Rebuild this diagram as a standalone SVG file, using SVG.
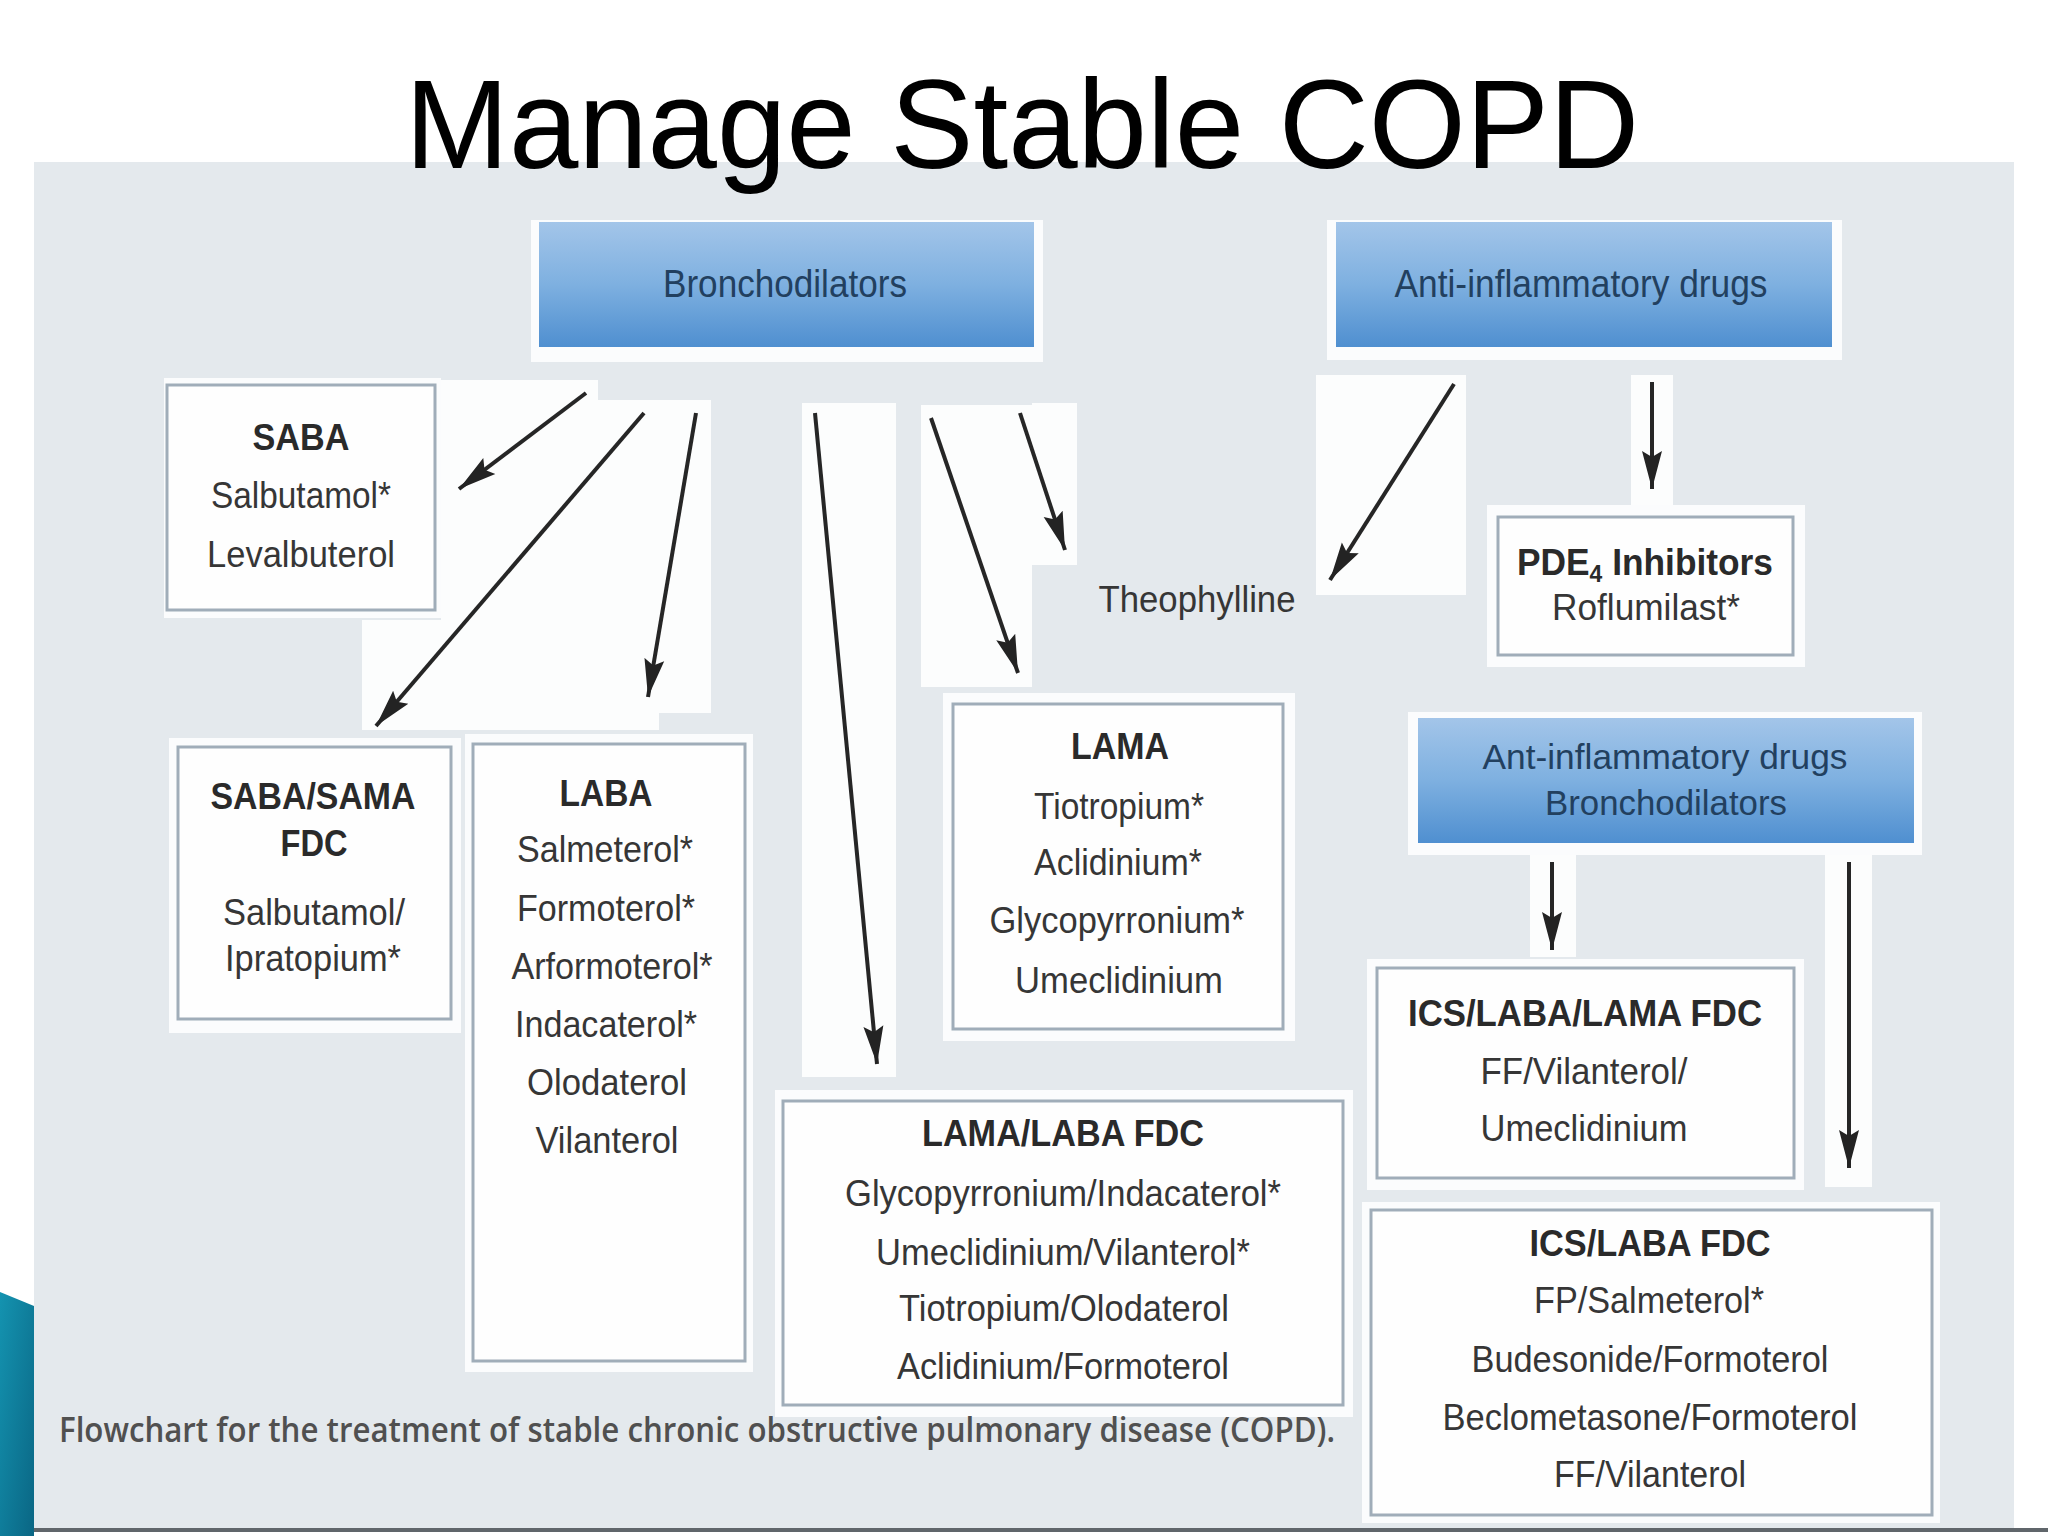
<svg xmlns="http://www.w3.org/2000/svg" width="2048" height="1536" viewBox="0 0 2048 1536">
<defs>
<linearGradient id="blue" x1="0" y1="0" x2="0" y2="1">
<stop offset="0" stop-color="#a3c5e9"/>
<stop offset="0.5" stop-color="#7eb0e0"/>
<stop offset="1" stop-color="#4f8fd0"/>
</linearGradient>
<linearGradient id="teal" x1="0" y1="0" x2="1" y2="1">
<stop offset="0" stop-color="#1493b0"/>
<stop offset="1" stop-color="#0a6684"/>
</linearGradient>
<marker id="ah" markerUnits="userSpaceOnUse" markerWidth="40" markerHeight="22" refX="38" refY="11" orient="auto">
<path d="M0,1 L38,11 L0,21 L6,11 z" fill="#232323"/>
</marker>
<style>
.paper{fill:#fcfdfd}
.halo{fill:#fbfcfd}
.box{fill:#fefefe;stroke:#a0adb9;stroke-width:3}
.bbox{fill:url(#blue)}
.t{font-family:"Liberation Sans",Arial,sans-serif;text-anchor:middle}
.h{font-weight:bold;font-size:37px;fill:#2a2a2a}
.r{font-size:36px;fill:#363636}
.b{font-size:38px;fill:#22405f}
.b2{font-size:35px;fill:#22405f}
.arr{stroke:#262626;stroke-width:4;fill:none;marker-end:url(#ah)}
</style>
</defs>
<rect x="0" y="0" width="2048" height="1536" fill="#ffffff"/>
<rect x="34" y="162" width="1980" height="1370" fill="#e4e9ed"/>
<line x1="34" y1="1530" x2="2048" y2="1530" stroke="#60666b" stroke-width="4"/>
<polygon points="0,1292 34,1306 34,1536 0,1536" fill="url(#teal)"/>
<text x="1022" y="168" font-family="Liberation Sans, Arial, sans-serif" font-size="126" text-anchor="middle" textLength="1234" lengthAdjust="spacingAndGlyphs" fill="#000">Manage Stable COPD</text>

<g id="paper">
<rect class="paper" x="441" y="380" width="157" height="247"/>
<rect class="paper" x="598" y="400" width="113" height="313"/>
<rect class="paper" x="362" y="620" width="297" height="110"/>
<rect class="paper" x="802" y="403" width="94" height="674"/>
<rect class="paper" x="921" y="405" width="111" height="282"/>
<rect class="paper" x="1032" y="403" width="45" height="162"/>
<rect class="paper" x="1316" y="375" width="150" height="220"/>
<rect class="paper" x="1631" y="375" width="42" height="130"/>
<rect class="paper" x="1530" y="855" width="46" height="102"/>
<rect class="paper" x="1825" y="855" width="47" height="332"/>
</g>

<g id="bronchodilators">
<rect class="halo" x="531" y="220" width="512" height="142"/>
<rect class="bbox" x="539" y="222" width="495" height="125"/>
<text class="t b" x="785" y="297" textLength="244" lengthAdjust="spacingAndGlyphs">Bronchodilators</text>
</g>
<g id="anti-inflammatory">
<rect class="halo" x="1327" y="220" width="515" height="140"/>
<rect class="bbox" x="1336" y="222" width="496" height="125"/>
<text class="t b" x="1581" y="297" textLength="373" lengthAdjust="spacingAndGlyphs">Anti-inflammatory drugs</text>
</g>
<g id="saba">
<rect class="halo" x="164" y="378" width="277" height="240"/>
<rect class="box" x="167" y="385" width="268" height="225"/>
<text class="t h" x="301" y="450" textLength="97" lengthAdjust="spacingAndGlyphs">SABA</text>
<text class="t r" x="301" y="508" textLength="180" lengthAdjust="spacingAndGlyphs">Salbutamol*</text>
<text class="t r" x="301" y="567" textLength="188" lengthAdjust="spacingAndGlyphs">Levalbuterol</text>
</g>
<g id="saba-sama">
<rect class="halo" x="169" y="738" width="292" height="295"/>
<rect class="box" x="178" y="747" width="273" height="272"/>
<text class="t h" x="313" y="809" textLength="205" lengthAdjust="spacingAndGlyphs">SABA/SAMA</text>
<text class="t h" x="314" y="856" textLength="67" lengthAdjust="spacingAndGlyphs">FDC</text>
<text class="t r" x="314" y="925" textLength="182" lengthAdjust="spacingAndGlyphs">Salbutamol/</text>
<text class="t r" x="313" y="971" textLength="176" lengthAdjust="spacingAndGlyphs">Ipratopium*</text>
</g>
<g id="laba">
<rect class="halo" x="465" y="734" width="288" height="638"/>
<rect class="box" x="473" y="744" width="272" height="617"/>
<text class="t h" x="606" y="806" textLength="93" lengthAdjust="spacingAndGlyphs">LABA</text>
<text class="t r" x="605" y="862" textLength="176" lengthAdjust="spacingAndGlyphs">Salmeterol*</text>
<text class="t r" x="606" y="921" textLength="178" lengthAdjust="spacingAndGlyphs">Formoterol*</text>
<text class="t r" x="612" y="979" textLength="201" lengthAdjust="spacingAndGlyphs">Arformoterol*</text>
<text class="t r" x="606" y="1037" textLength="182" lengthAdjust="spacingAndGlyphs">Indacaterol*</text>
<text class="t r" x="607" y="1095" textLength="160" lengthAdjust="spacingAndGlyphs">Olodaterol</text>
<text class="t r" x="607" y="1153" textLength="143" lengthAdjust="spacingAndGlyphs">Vilanterol</text>
</g>
<g id="lama">
<rect class="halo" x="943" y="693" width="352" height="348"/>
<rect class="box" x="953" y="704" width="330" height="325"/>
<text class="t h" x="1120" y="759" textLength="98" lengthAdjust="spacingAndGlyphs">LAMA</text>
<text class="t r" x="1119" y="819" textLength="170" lengthAdjust="spacingAndGlyphs">Tiotropium*</text>
<text class="t r" x="1118" y="875" textLength="168" lengthAdjust="spacingAndGlyphs">Aclidinium*</text>
<text class="t r" x="1117" y="933" textLength="255" lengthAdjust="spacingAndGlyphs">Glycopyrronium*</text>
<text class="t r" x="1119" y="993" textLength="208" lengthAdjust="spacingAndGlyphs">Umeclidinium</text>
</g>
<g id="lama-laba">
<rect class="halo" x="775" y="1090" width="578" height="327"/>
<rect class="box" x="783" y="1101" width="560" height="304"/>
<text class="t h" x="1063" y="1146" textLength="282" lengthAdjust="spacingAndGlyphs">LAMA/LABA FDC</text>
<text class="t r" x="1063" y="1206" textLength="436" lengthAdjust="spacingAndGlyphs">Glycopyrronium/Indacaterol*</text>
<text class="t r" x="1063" y="1265" textLength="374" lengthAdjust="spacingAndGlyphs">Umeclidinium/Vilanterol*</text>
<text class="t r" x="1064" y="1321" textLength="330" lengthAdjust="spacingAndGlyphs">Tiotropium/Olodaterol</text>
<text class="t r" x="1063" y="1379" textLength="332" lengthAdjust="spacingAndGlyphs">Aclidinium/Formoterol</text>
</g>
<g id="theophylline">
<text class="t r" x="1197" y="612" textLength="197" lengthAdjust="spacingAndGlyphs">Theophylline</text>
</g>
<g id="pde4">
<rect class="halo" x="1487" y="505" width="318" height="162"/>
<rect class="box" x="1498" y="517" width="295" height="138"/>
<text class="t h" x="1645" y="575" textLength="256" lengthAdjust="spacingAndGlyphs">PDE<tspan font-size="24" dy="7">4</tspan><tspan dy="-7"> Inhibitors</tspan></text>
<text class="t r" x="1646" y="620" textLength="188" lengthAdjust="spacingAndGlyphs">Roflumilast*</text>
</g>
<g id="anti-bronch">
<rect class="halo" x="1408" y="712" width="514" height="143"/>
<rect class="bbox" x="1418" y="718" width="496" height="125"/>
<text class="t b2" x="1665" y="769" textLength="365" lengthAdjust="spacingAndGlyphs">Ant-inflammatory drugs</text>
<text class="t b2" x="1666" y="815" textLength="242" lengthAdjust="spacingAndGlyphs">Bronchodilators</text>
</g>
<g id="ics-laba-lama">
<rect class="halo" x="1367" y="959" width="437" height="231"/>
<rect class="box" x="1377" y="968" width="417" height="210"/>
<text class="t h" x="1585" y="1026" textLength="354" lengthAdjust="spacingAndGlyphs">ICS/LABA/LAMA FDC</text>
<text class="t r" x="1584" y="1084" textLength="207" lengthAdjust="spacingAndGlyphs">FF/Vilanterol/</text>
<text class="t r" x="1584" y="1141" textLength="207" lengthAdjust="spacingAndGlyphs">Umeclidinium</text>
</g>
<g id="ics-laba">
<rect class="halo" x="1362" y="1202" width="578" height="321"/>
<rect class="box" x="1371" y="1210" width="561" height="305"/>
<text class="t h" x="1650" y="1256" textLength="241" lengthAdjust="spacingAndGlyphs">ICS/LABA FDC</text>
<text class="t r" x="1649" y="1313" textLength="230" lengthAdjust="spacingAndGlyphs">FP/Salmeterol*</text>
<text class="t r" x="1650" y="1372" textLength="357" lengthAdjust="spacingAndGlyphs">Budesonide/Formoterol</text>
<text class="t r" x="1650" y="1430" textLength="415" lengthAdjust="spacingAndGlyphs">Beclometasone/Formoterol</text>
<text class="t r" x="1650" y="1487" textLength="192" lengthAdjust="spacingAndGlyphs">FF/Vilanterol</text>
</g>

<g id="connectors">
<line class="arr" x1="586" y1="393" x2="459" y2="489"/>
<line class="arr" x1="644" y1="413" x2="376" y2="726"/>
<line class="arr" x1="696" y1="413" x2="648" y2="697"/>
<line class="arr" x1="815" y1="413" x2="877" y2="1064"/>
<line class="arr" x1="931" y1="418" x2="1018" y2="673"/>
<line class="arr" x1="1020" y1="413" x2="1065" y2="550"/>
<line class="arr" x1="1454" y1="384" x2="1330" y2="580"/>
<line class="arr" x1="1652" y1="382" x2="1652" y2="489"/>
<line class="arr" x1="1552" y1="862" x2="1552" y2="950"/>
<line class="arr" x1="1849" y1="862" x2="1849" y2="1168"/>
</g>

<text x="59" y="1442" font-family="Open Sans, Liberation Sans, sans-serif" font-size="34" font-weight="600" textLength="1276" lengthAdjust="spacingAndGlyphs" fill="#505050">Flowchart for the treatment of stable chronic obstructive pulmonary disease (COPD).</text>
</svg>
